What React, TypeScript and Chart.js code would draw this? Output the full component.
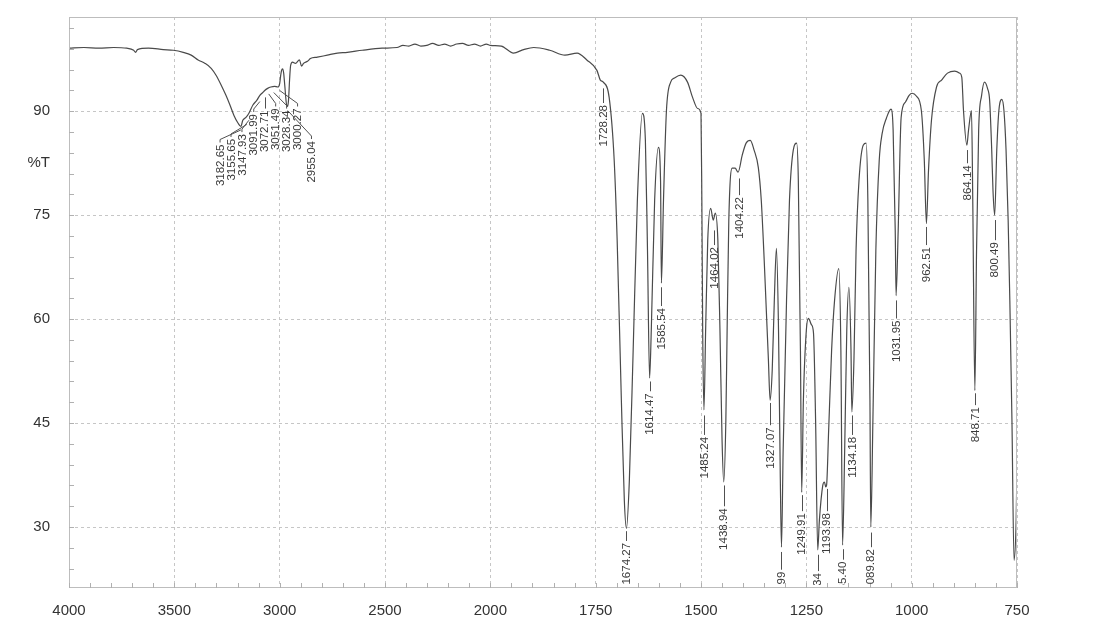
import React, { useEffect, useRef } from 'react';
import { Chart, registerables } from 'chart.js';

Chart.register(...registerables);

// Spectrum: wavenumber (cm-1) and transmittance (%T)
const wavenumbers = [
  4000, 3929, 3858, 3788, 3726, 3693, 3684, 3675, 3623, 3552, 3505, 3458, 3420, 3387, 3354, 3325, 3302, 3278, 3255, 3236,
  3217, 3198, 3184, 3175, 3160, 3146, 3127, 3108, 3094, 3080, 3071, 3057, 3042, 3024, 3009, 3000, 2995, 2991, 2986, 2981,
  2976, 2967, 2962, 2958, 2953, 2948, 2939, 2925, 2906, 2896, 2887, 2868, 2854, 2821, 2774, 2726, 2679, 2608, 2514, 2443,
  2415, 2387, 2358, 2330, 2302, 2274, 2245, 2217, 2189, 2160, 2132, 2104, 2075, 2047, 2019, 2000, 1974, 1945, 1921, 1897,
  1859, 1823, 1794, 1771, 1747, 1739, 1732, 1718, 1706, 1699, 1689, 1682, 1677, 1670, 1661, 1651, 1639, 1632, 1627, 1622,
  1618, 1610, 1601, 1596, 1594, 1589, 1582, 1572, 1563, 1548, 1532, 1520, 1508, 1500, 1498, 1496, 1493, 1489, 1484, 1477,
  1471, 1466, 1460, 1455, 1450, 1446, 1441, 1438, 1434, 1426, 1419, 1412, 1402, 1393, 1383, 1374, 1364, 1357, 1350, 1345,
  1340, 1336, 1331, 1326, 1321, 1316, 1312, 1309, 1305, 1297, 1290, 1281, 1273, 1269, 1264, 1261, 1257, 1250, 1245, 1238,
  1233, 1228, 1223, 1219, 1211, 1207, 1204, 1202, 1197, 1190, 1183, 1173, 1168, 1164, 1159, 1154, 1149, 1144, 1142, 1137,
  1132, 1125, 1115, 1108, 1104, 1099, 1097, 1092, 1085, 1077, 1070, 1060, 1049, 1044, 1039, 1037, 1032, 1025, 1015, 1006,
  999, 989, 977, 970, 965, 960, 953, 941, 929, 915, 898, 886, 881, 877, 869, 865, 858, 855, 850, 846,
  841, 834, 827, 820, 815, 810, 807, 803, 798, 793, 786, 781, 776, 771, 767, 762, 757, 752, 750,
];
const transmittance = [
  99.1, 99.2, 99.1, 99.2, 99.1, 98.8, 98.5, 98.9, 99.1, 98.9, 98.8, 98.5, 98.1, 97.4, 96.9, 96.2, 95.2, 93.8, 92.3, 90.9,
  89.4, 88.3, 87.8, 88.7, 89.1, 89.7, 90.9, 91.6, 92.3, 92.7, 93.0, 93.3, 93.5, 93.6, 93.5, 94.0, 95.2, 95.9, 96.1, 95.5,
  93.8, 90.9, 90.7, 91.6, 94.5, 96.6, 97.1, 96.9, 97.4, 96.5, 96.9, 97.2, 97.6, 97.8, 98.1, 98.4, 98.5, 98.8, 99.1, 99.2,
  99.5, 99.4, 99.7, 99.4, 99.5, 99.8, 99.5, 99.7, 99.4, 99.7, 99.8, 99.5, 99.7, 99.4, 99.7, 99.5, 99.4, 98.4, 98.9, 99.2,
  98.8, 98.1, 98.4, 97.4, 95.9, 94.5, 94.2, 92.0, 82.9, 71.4, 48.3, 33.9, 29.8, 36.8, 55.5, 77.2, 89.7, 85.8, 69.9, 51.5,
  58.4, 77.2, 84.8, 80.0, 65.2, 77.2, 90.1, 94.2, 94.8, 95.2, 94.2, 92.0, 90.4, 89.7, 77.2, 58.4, 46.9, 58.4, 71.4, 76.0,
  74.3, 75.3, 71.4, 58.4, 42.5, 36.5, 45.4, 58.4, 74.3, 81.8, 81.8, 81.2, 83.7, 85.4, 85.8, 84.4, 81.9, 77.2, 68.5, 61.3,
  54.1, 48.3, 52.6, 62.7, 70.2, 58.4, 38.2, 27.1, 41.1, 62.7, 77.2, 84.4, 85.4, 80.0, 55.5, 35.0, 48.3, 58.4, 60.1, 59.2,
  58.0, 45.4, 26.7, 31.0, 36.0, 36.5, 35.8, 36.0, 44.0, 55.5, 62.7, 67.3, 55.5, 27.4, 41.1, 58.4, 64.6, 55.5, 46.6, 54.1,
  69.9, 80.0, 85.1, 85.4, 77.2, 48.3, 30.0, 45.4, 69.9, 82.9, 86.8, 89.0, 90.3, 87.3, 72.8, 63.4, 72.8, 89.1, 91.3, 92.3,
  92.6, 92.2, 90.1, 82.9, 73.8, 81.5, 88.7, 93.5, 94.5, 95.5, 95.8, 95.5, 94.9, 90.1, 85.1, 87.3, 90.1, 77.2, 49.7, 69.9,
  87.3, 92.3, 94.2, 93.3, 91.6, 84.4, 78.6, 75.0, 84.4, 90.1, 91.7, 90.1, 84.4, 74.3, 62.7, 45.4, 25.2, 31.0, 38.9,
];

// Axis ticks
const xTickWavenumbers = [4000, 3500, 3000, 2500, 2000, 1750, 1500, 1250, 1000, 750];
const yTickValues = [30, 45, 60, 75, 90];
const yAxisTitle = '%T';
const yAxisTitleValue = 82.5;
const yMin = 21.2;
const yMax = 103.6;

// Peak annotations
const peakLabelText = [
  '3182.65', '3155.65', '3147.93', '3091.99', '3072.71', '3051.49', '3028.34', '3000.27', '2955.04',
  '1728.28', '1674.27', '1614.47', '1585.54', '1485.24', '1464.02', '1438.94', '1404.22', '1327.07', '1300.99',
  '1249.91', '1222.34', '1193.98', '1165.40', '1134.18', '1089.82', '1031.95', '962.51', '864.14', '848.71', '800.49',
];
// wavenumber where the label text stands
const peakLabelAt = [
  3283, 3231, 3179, 3123, 3071, 3019, 2967, 2915, 2849,
  1732, 1677, 1622, 1594, 1493, 1469, 1446, 1410, 1336, 1309,
  1261, 1223, 1202, 1164, 1142, 1097, 1037, 965, 869, 850, 803,
];
// %T at the upper end of the label text
const peakLabelTop = [
  85.2, 86.0, 86.7, 89.6, 90.1, 90.4, 90.1, 90.4, 85.7,
  90.9, 27.7, 49.3, 61.6, 43.0, 70.4, 32.7, 77.6, 44.4, 23.55,
  32.0, 23.35, 32.0, 25.0, 43.0, 26.8, 59.8, 70.4, 82.2, 47.3, 71.1,
];
// wavenumber of the marked peak (leader target)
const peakTarget = [
  3184, 3156, 3146, 3094, 3071, 3052, 3028, 3000, 2962,
  1732, 1677, 1622, 1594, 1493, 1469, 1446, 1410, 1336, 1309,
  1261, 1223, 1202, 1164, 1142, 1097, 1037, 965, 869, 850, 803,
];
// %T where the leader ends
const peakLeaderEnd = [
  87.3, 88.1, 88.7, 91.4, 92.0, 92.5, 92.7, 93.0, 90.1,
  93.3, 29.4, 51.0, 64.6, 46.1, 72.8, 36.0, 80.3, 47.9, 26.4,
  34.6, 26.0, 35.5, 26.8, 46.1, 29.2, 62.7, 73.3, 84.4, 49.3, 74.3,
];

// Split abscissa: 4000-2000 compressed by 2 relative to 2000-750
const toPos = (wn: number) => (wn >= 2000 ? (4000 - wn) / 2 : 1000 + (2000 - wn));
const fromPos = (p: number) => (p <= 1000 ? 4000 - 2 * p : 2000 - (p - 1000));

const FONT = '"Liberation Sans", Arial, sans-serif';

const overlayPlugin = {
  id: 'irOverlay',
  afterDatasetsDraw(chart: any) {
    const { ctx, chartArea } = chart;
    const xs = chart.scales.x;
    const ys = chart.scales.y;
    const { left, right, top, bottom } = chartArea;
    ctx.save();
    // frame
    ctx.strokeStyle = '#bdbdbd';
    ctx.lineWidth = 1;
    ctx.setLineDash([]);
    ctx.strokeRect(left + 0.5, top + 0.5, right - left - 1, bottom - top - 1);
    // minor ticks
    ctx.strokeStyle = '#b0b0b0';
    ctx.beginPath();
    for (let p = 0; p <= 2250; p += 50) {
      const x = Math.round(xs.getPixelForValue(p)) + 0.5;
      ctx.moveTo(x, bottom);
      ctx.lineTo(x, bottom - 5);
    }
    for (let v = 24; v <= yMax; v += 3) {
      const y = Math.round(ys.getPixelForValue(v)) + 0.5;
      ctx.moveTo(left, y);
      ctx.lineTo(left + 5, y);
    }
    ctx.stroke();

    // peak labels
    ctx.beginPath();
    ctx.rect(left, top, right - left, bottom - top - 3);
    ctx.clip();
    ctx.strokeStyle = '#505050';
    ctx.fillStyle = '#3a3a3a';
    ctx.lineWidth = 1;
    ctx.font = `11.5px ${FONT}`;
    for (let i = 0; i < peakLabelText.length; i++) {
      const tx = xs.getPixelForValue(toPos(peakLabelAt[i]));
      const ty = ys.getPixelForValue(peakLabelTop[i]);
      const px = xs.getPixelForValue(toPos(peakTarget[i]));
      const py = ys.getPixelForValue(peakLeaderEnd[i]);
      ctx.beginPath();
      if (Math.abs(tx - px) < 1) {
        ctx.moveTo(Math.round(tx) + 0.5, ty - 2);
        ctx.lineTo(Math.round(tx) + 0.5, py);
      } else {
        ctx.moveTo(tx, ty - 2);
        ctx.lineTo(tx, ty - 5);
        ctx.lineTo(px, py);
      }
      ctx.stroke();
      ctx.save();
      ctx.translate(tx, ty);
      ctx.rotate(-Math.PI / 2);
      ctx.textAlign = 'right';
      ctx.textBaseline = 'middle';
      ctx.fillText(peakLabelText[i], 0, 0.5);
      ctx.restore();
    }
    ctx.restore();
  },
};

export default function App() {
  const canvasRef = useRef<HTMLCanvasElement | null>(null);

  useEffect(() => {
    document.body.style.margin = '0';
    const canvas = canvasRef.current;
    if (!canvas) return;
    const points = wavenumbers.map((w, i) => ({ x: toPos(w), y: transmittance[i] }));
    const chart = new Chart(canvas, {
      type: 'line',
      data: {
        datasets: [
          {
            data: points,
            borderColor: '#4a4a4a',
            borderWidth: 1.2,
            pointRadius: 0,
            fill: false,
            cubicInterpolationMode: 'monotone',
          },
        ],
      },
      options: {
        animation: false,
        responsive: false,
        maintainAspectRatio: false,
        layout: { padding: { left: 0, right: 88, top: 17, bottom: 0 } },
        plugins: { legend: { display: false }, tooltip: { enabled: false } },
        scales: {
          x: {
            type: 'linear',
            min: 0,
            max: 2250,
            afterBuildTicks: (scale: any) => {
              scale.ticks = xTickWavenumbers.map((w) => ({ value: toPos(w) }));
            },
            afterFit: (scale: any) => {
              scale.height = 29;
              scale.paddingLeft = 0;
              scale.paddingRight = 0;
            },
            ticks: {
              padding: 14,
              color: '#333',
              font: { family: FONT, size: 15 },
              maxRotation: 0,
              autoSkip: false,
              callback: (v: any) => String(Math.round(fromPos(Number(v)))),
            },
            grid: { color: '#c6c6c6', drawTicks: false, lineWidth: 1 },
            border: { display: false, dash: [3, 3] },
          },
          y: {
            type: 'linear',
            min: yMin,
            max: yMax,
            afterBuildTicks: (scale: any) => {
              const vals = [...yTickValues, yAxisTitleValue].sort((a, b) => a - b);
              scale.ticks = vals.map((v) => ({ value: v }));
            },
            afterFit: (scale: any) => {
              scale.width = 69;
              scale.paddingTop = 0;
              scale.paddingBottom = 0;
            },
            ticks: {
              padding: 19,
              color: '#333',
              font: { family: FONT, size: 15 },
              autoSkip: false,
              callback: (v: any) => (Number(v) === yAxisTitleValue ? yAxisTitle : String(v)),
            },
            grid: {
              color: (c: any) => (c.tick && c.tick.value === yAxisTitleValue ? 'rgba(0,0,0,0)' : '#c6c6c6'),
              drawTicks: false,
              lineWidth: 1,
            },
            border: { display: false, dash: [3, 3] },
          },
        },
      },
      plugins: [overlayPlugin],
    });
    return () => chart.destroy();
  }, []);

  return (
    <div style={{ position: 'fixed', left: 0, top: 0, width: 1105, height: 617, background: '#fff' }}>
      <canvas ref={canvasRef} width={1105} height={617} style={{ width: 1105, height: 617, display: 'block' }} />
    </div>
  );
}
